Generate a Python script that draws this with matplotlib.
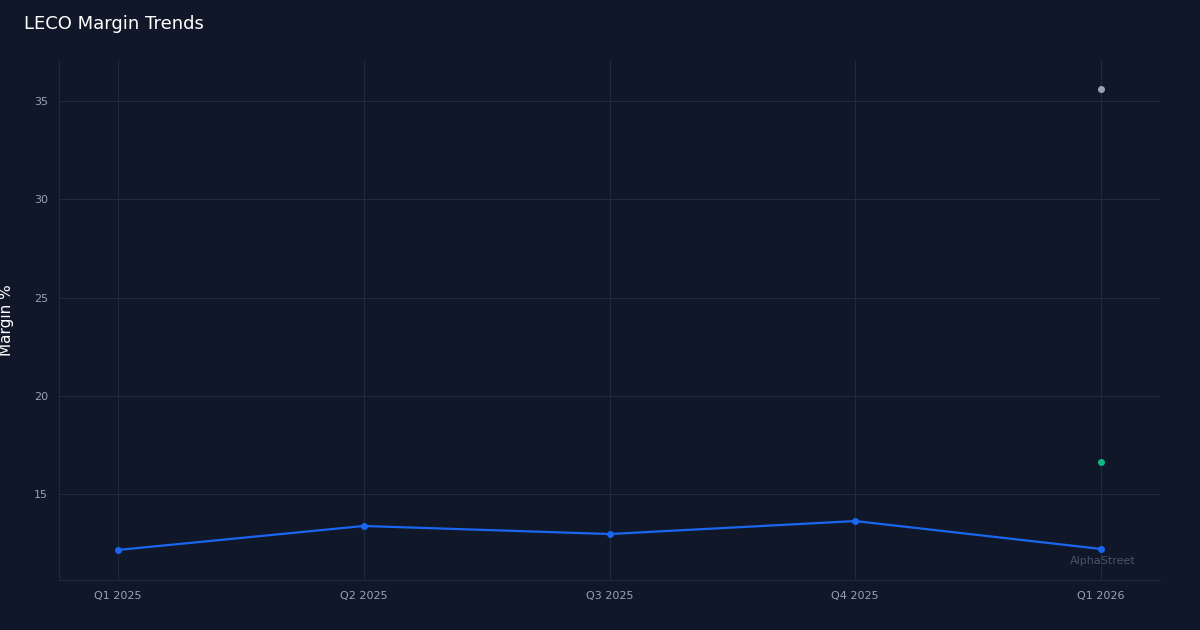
import matplotlib
matplotlib.use("Agg")
import matplotlib.pyplot as plt

quarters = ["Q1 2025", "Q2 2025", "Q3 2025", "Q4 2025", "Q1 2026"]
net_margin = [12.15, 13.37, 12.96, 13.62, 12.2]
gross_latest = 35.6
op_latest = 16.63

bg = "#0f1729"
fig = plt.figure(figsize=(12, 6.3), dpi=100, facecolor=bg)
ax = fig.add_axes([59/1200, 50/630, 1101/1200, 520/630], facecolor=bg)
x = list(range(len(quarters)))
ax.plot(x, net_margin, color="#1a66f0", lw=1.6, marker="o", ms=4, zorder=3)
ax.plot([4], [gross_latest], "o", color="#9aa3b5", ms=4, zorder=3)
ax.plot([4], [op_latest], "o", color="#10b981", ms=4, zorder=3)
ax.set_xlim(-0.24, 4.24)
ax.set_ylim(10.62, 37.09)
ax.set_xticks(x)
ax.set_xticklabels(quarters)
ax.set_yticks([15, 20, 25, 30, 35])
ax.grid(True, color="#1f2a3d", lw=0.8)
ax.tick_params(colors="#9aa3b5", labelsize=8, length=0, pad=8)
for s in ["top", "right"]:
    ax.spines[s].set_visible(False)
for s in ["left", "bottom"]:
    ax.spines[s].set_color("#1f2a3d")
ax.set_ylabel("Margin %", color="white", fontsize=11, labelpad=14)
fig.text(24/1200, 1-24/630, "LECO Margin Trends", color="white", fontsize=13, va="center")
fig.text(1136/1200, 1-561/630, "AlphaStreet", color="#4a5468", fontsize=8, ha="right", va="center")
fig.savefig("out.png", dpi=100, facecolor=bg)
